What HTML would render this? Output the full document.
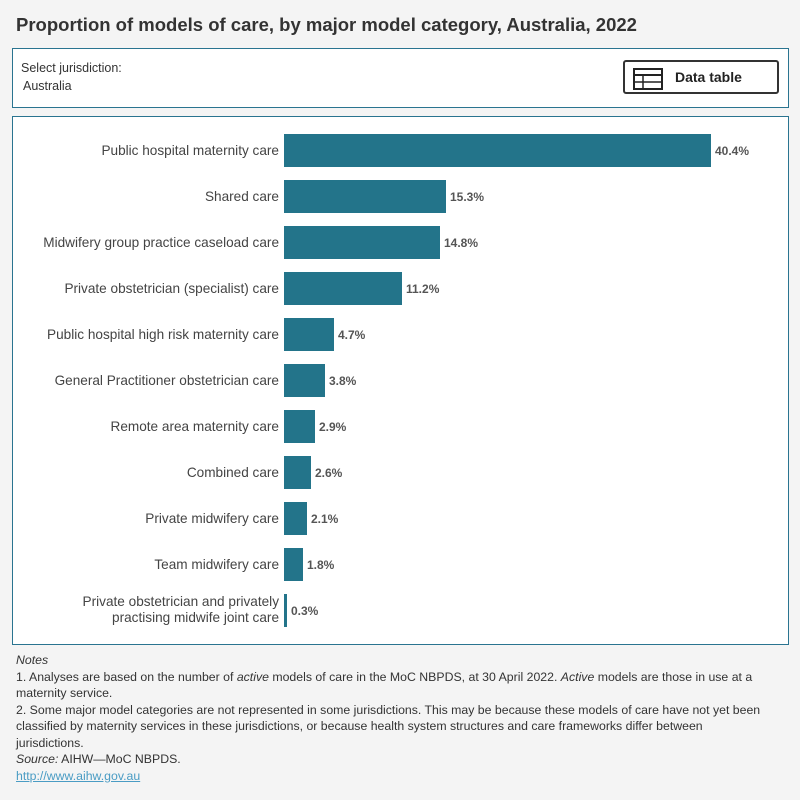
<!DOCTYPE html>
<html><head><style>
body{margin:0;width:800px;height:800px;background:#f4f4f4;font-family:"Liberation Sans",sans-serif;color:#333;position:relative;overflow:hidden}
.t{position:absolute;left:16px;top:14px;font-size:18.5px;font-weight:bold;color:#333}
.box{position:absolute;left:12px;width:775px;background:#fff;border:1px solid #2a7490}
.lbl{position:absolute;right:521px;font-size:13.6px;color:#444;text-align:right;line-height:16px;white-space:nowrap}
.bar{position:absolute;left:284px;height:33px;background:#23748a}
.v{position:absolute;font-size:12px;font-weight:bold;color:#555}
.n{position:absolute;left:16px;top:652px;font-size:12.3px;line-height:16.5px;color:#333;white-space:nowrap}
</style></head><body>
<div class="t">Proportion of models of care, by major model category, Australia, 2022</div>
<div class="box" style="top:48px;height:58px">
<div style="position:absolute;left:8px;top:12px;font-size:12.5px">Select jurisdiction:</div>
<div style="position:absolute;left:10px;top:30px;font-size:12.5px">Australia</div>
<div style="position:absolute;left:610px;top:11px;width:156px;height:34px;border:2px solid #333;border-radius:3px;box-sizing:border-box">
<svg style="position:absolute;left:8px;top:6px" width="30" height="22"><rect x="1" y="1" width="28" height="20" fill="none" stroke="#222" stroke-width="2"/><line x1="1" y1="7" x2="29" y2="7" stroke="#222" stroke-width="2"/><line x1="1" y1="14" x2="29" y2="14" stroke="#222" stroke-width="1.5"/><line x1="10" y1="7" x2="10" y2="21" stroke="#222" stroke-width="1.5"/></svg>
<div style="position:absolute;left:50px;top:7px;font-size:14px;font-weight:bold;color:#222">Data table</div></div>
</div>
<div class="box" style="top:116px;height:527px"></div>
<div class="lbl" style="top:143px">Public hospital maternity care</div><div class="bar" style="top:134px;width:427px"></div><div class="v" style="left:715px;top:144px">40.4%</div>
<div class="lbl" style="top:189px">Shared care</div><div class="bar" style="top:180px;width:162px"></div><div class="v" style="left:450px;top:190px">15.3%</div>
<div class="lbl" style="top:235px">Midwifery group practice caseload care</div><div class="bar" style="top:226px;width:156px"></div><div class="v" style="left:444px;top:236px">14.8%</div>
<div class="lbl" style="top:281px">Private obstetrician (specialist) care</div><div class="bar" style="top:272px;width:118px"></div><div class="v" style="left:406px;top:282px">11.2%</div>
<div class="lbl" style="top:327px">Public hospital high risk maternity care</div><div class="bar" style="top:318px;width:50px"></div><div class="v" style="left:338px;top:328px">4.7%</div>
<div class="lbl" style="top:373px">General Practitioner obstetrician care</div><div class="bar" style="top:364px;width:41px"></div><div class="v" style="left:329px;top:374px">3.8%</div>
<div class="lbl" style="top:419px">Remote area maternity care</div><div class="bar" style="top:410px;width:31px"></div><div class="v" style="left:319px;top:420px">2.9%</div>
<div class="lbl" style="top:465px">Combined care</div><div class="bar" style="top:456px;width:27px"></div><div class="v" style="left:315px;top:466px">2.6%</div>
<div class="lbl" style="top:511px">Private midwifery care</div><div class="bar" style="top:502px;width:23px"></div><div class="v" style="left:311px;top:512px">2.1%</div>
<div class="lbl" style="top:557px">Team midwifery care</div><div class="bar" style="top:548px;width:19px"></div><div class="v" style="left:307px;top:558px">1.8%</div>
<div class="lbl" style="top:594px">Private obstetrician and privately<br>practising midwife joint care</div><div class="bar" style="top:594px;width:3px"></div><div class="v" style="left:291px;top:604px">0.3%</div>
<div class="n"><i>Notes</i><br>1. Analyses are based on the number of <i>active</i> models of care in the MoC NBPDS, at 30 April 2022. <i>Active</i> models are those in use at a<br>maternity service.<br>2. Some major model categories are not represented in some jurisdictions. This may be because these models of care have not yet been<br>classified by maternity services in these jurisdictions, or because health system structures and care frameworks differ between<br>jurisdictions.<br><i>Source:</i> AIHW—MoC NBPDS.<br><span style="color:#4a9cc4;text-decoration:underline">http://www.aihw.gov.au</span></div>
</body></html>
